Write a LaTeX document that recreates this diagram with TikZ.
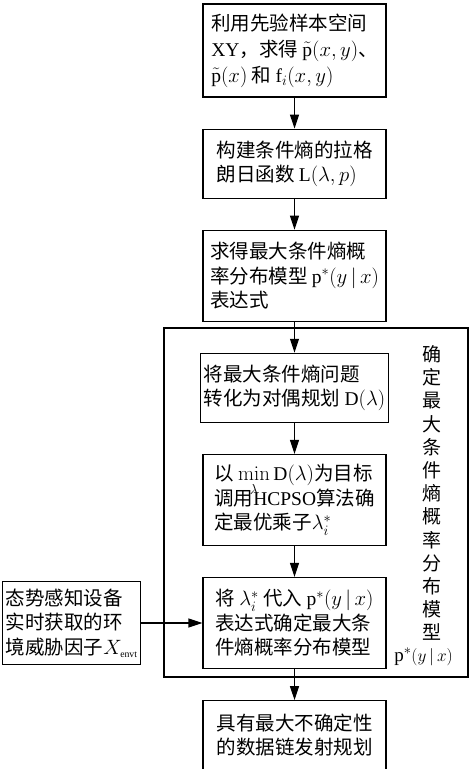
\documentclass[tikz,border=0pt]{standalone}
\usepackage{amsmath}
\usepackage[no-math]{fontspec}
\setmainfont{Noto Sans CJK SC}
\newfontfamily\lat{Liberation Serif}
\newcommand\up[1]{\text{\lat #1}}
\usepackage{tikz}
\usetikzlibrary{positioning,arrows.meta}

\begin{document}
\begin{tikzpicture}[
x=1pt,y=1pt,
box/.style={
rectangle,draw,line width=1.1pt,
align=left,
font=\fontsize{19.5}{24.5}\selectfont,
minimum width=183pt,
minimum height=69pt
},
tallbox/.style={box,minimum height=91pt},
arrow/.style={-{Triangle[length=14pt,width=9pt]},line width=1.1pt}
]
\useasboundingbox (0,0) rectangle (474,-769);

\node[tallbox,minimum height=93pt,font=\fontsize{19.5}{26}\selectfont] (sample) at (294.5,-50.5) {利用先验样本空间\\{\lat XY}，求得 $\tilde{\up{p}}(x,y)$、\\$\tilde{\up{p}}(x)$ 和 $\up{f}_i(x,y)$};
\node[box,below=31pt of sample] (lagrange) {构建条件熵的拉格\\朗日函数 $\up{L}(\lambda,p)$};
\node[tallbox,below=31pt of lagrange] (model) {求得最大条件熵概\\率分布模型 $\up{p}^*(y\,|\,x)$\\表达式};
\node[box,below=31pt of model] (dual) {将最大条件熵问题\\转化为对偶规划 $\up{D}(\lambda)$};
\node[tallbox,below=31pt of dual] (hcpso) {以 $\smash{\min\limits_{\lambda}}\,\up{D}(\lambda)$为目标\\调用{\lat HCPSO}算法确\\定最优乘子$\lambda_i^*$};
\node[tallbox,below=31pt of hcpso] (final) {将 $\lambda_i^*$ 代入 $\up{p}^*(y\,|\,x)$\\表达式确定最大条\\件熵概率分布模型};
\node[box,below=31pt of final] (plan) {具有最大不确定性\\的数据链发射规划};
\node[box,minimum width=138pt,minimum height=83pt,left=61pt of final] (sensor) {态势感知设备\\实时获取的环\\境威胁因子$X_{\scriptscriptstyle\up{envt}}$};

% frame around the optimisation steps
\node[draw,line width=1.1pt,minimum width=304pt,minimum height=349pt] (frame) at (316,-502.5) {};
\node[anchor=north,align=center,font=\fontsize{19}{23.2}\selectfont] (framelabel) at (432,-342) {确\\定\\最\\大\\条\\件\\熵\\概\\率\\分\\布\\模\\型\\[-2pt]$\up{p}^*(y\,|\,x)$\hspace*{17pt}};

\draw[arrow] (sample.south) -- (lagrange.north);
\draw[arrow] (lagrange.south) -- (model.north);
\draw[arrow] (model.south) -- (dual.north);
\draw[arrow] (dual.south) -- (hcpso.north);
\draw[arrow] (hcpso.south) -- (final.north);
\draw[arrow] (final.south) -- (plan.north);
\draw[arrow] (sensor.east) -- (final.west);

\end{tikzpicture}
\end{document}
